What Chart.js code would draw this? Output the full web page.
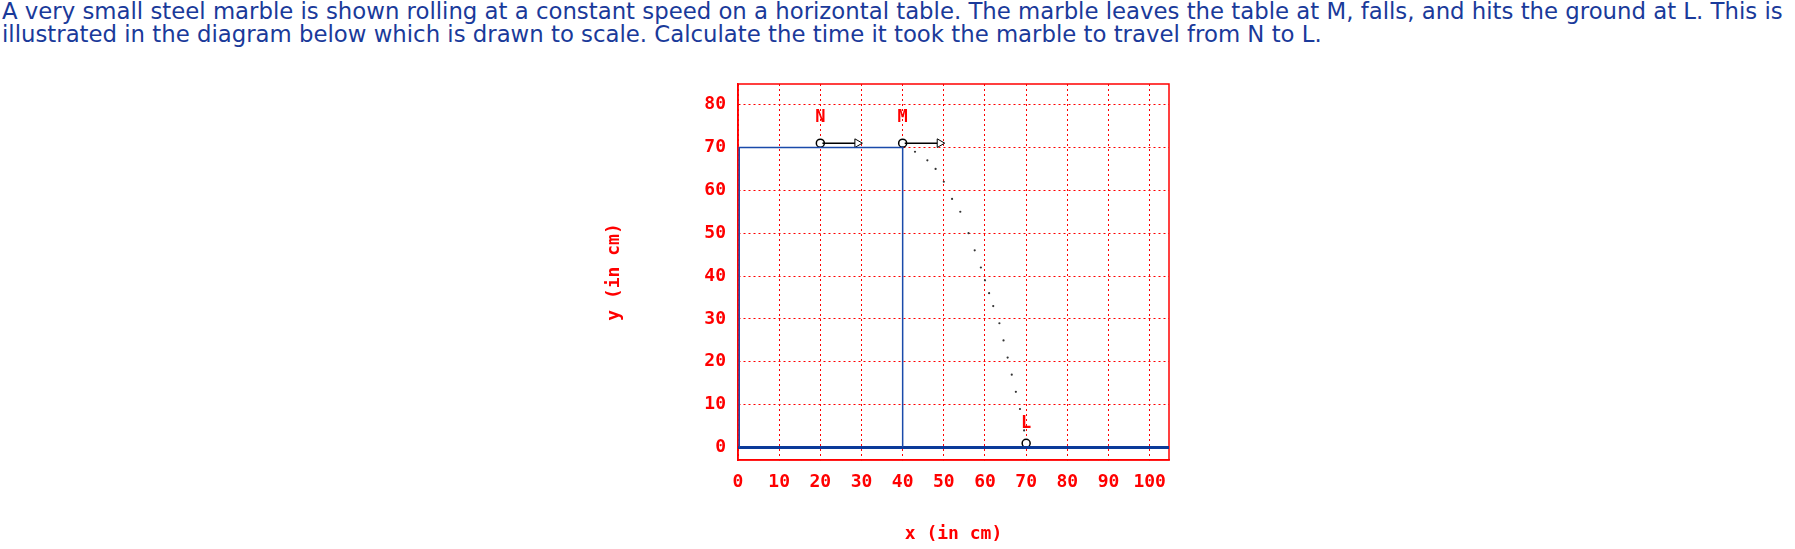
<!DOCTYPE html>
<html>
<head>
<meta charset="utf-8">
<script src="https://cdn.jsdelivr.net/npm/chart.js@4/dist/chart.umd.min.js"></script>
<style>
  body { margin: 0; background: #fff; width: 1795px; height: 549px; overflow: hidden; position: relative; }
  #q { position: absolute; left: 2px; top: 0px; font-family: "DejaVu Sans", Verdana, sans-serif; font-size: 22.8px; line-height: 23px; color: #1a3a9a; }
  #wrap { position: absolute; left: 600px; top: 60px; width: 600px; height: 489px; }
</style>
</head>
<body>
<div id="q">A very small steel marble is shown rolling at a constant speed on a horizontal table. The marble leaves the table at M, falls, and hits the ground at L. This is<br>illustrated in the diagram below which is drawn to scale. Calculate the time it took the marble to travel from N to L.</div>
<div id="wrap"><canvas id="c"></canvas></div>
<script>
// datos (cm)
const xTicks = [0, 10, 20, 30, 40, 50, 60, 70, 80, 90, 100];
const yTicks = [0, 10, 20, 30, 40, 50, 60, 70, 80];
const mesa = [{x: 0.3, y: 0}, {x: 0.3, y: 70}, {x: 40, y: 70}, {x: 40, y: 0}];
const suelo = [{x: 0, y: 0}, {x: 104.7, y: 0}];
const trayectoria = [
  {x: 40, y: 70}, {x: 43, y: 69}, {x: 46, y: 67}, {x: 48, y: 65}, {x: 50, y: 62},
  {x: 52, y: 58}, {x: 54, y: 55}, {x: 56, y: 50}, {x: 57.5, y: 46}, {x: 59, y: 42},
  {x: 60, y: 39}, {x: 61, y: 36}, {x: 62, y: 33}, {x: 63.5, y: 29}, {x: 64.5, y: 25},
  {x: 65.5, y: 21}, {x: 66.5, y: 17}, {x: 67.5, y: 13}, {x: 68.5, y: 9}, {x: 69.5, y: 4}
];
const canicas = [{x: 20, y: 71}, {x: 40, y: 71}, {x: 70, y: 1}];
const flechaN = [{x: 20.5, y: 71}, {x: 29, y: 71}];
const flechaM = [{x: 40.5, y: 71}, {x: 49, y: 71}];
const etiquetas = [{x: 20, y: 77, t: 'N'}, {x: 40, y: 77, t: 'M'}, {x: 70, y: 5.5, t: 'L'}];

const rojo = '#ff0000';
const fuente = {family: '"DejaVu Sans Mono", monospace', size: 18, weight: 'bold'};

const labelsPlugin = {
  id: 'labels',
  afterDatasetsDraw(chart) {
    const ctx = chart.ctx, xs = chart.scales.x, ys = chart.scales.y;
    ctx.save();
    ctx.fillStyle = rojo;
    ctx.font = 'bold 17px "DejaVu Sans Mono", monospace';
    ctx.textAlign = 'center';
    ctx.textBaseline = 'middle';
    etiquetas.forEach(e => ctx.fillText(e.t, xs.getPixelForValue(e.x), ys.getPixelForValue(e.y)));
    ctx.restore();
  }
};

const arrow = d => ({
  type: 'line', data: d, borderColor: '#000', borderWidth: 1.5, pointRadius: [0, 5],
  pointStyle: 'triangle', pointRotation: 90, pointBackgroundColor: '#fff',
  pointBorderColor: '#000', pointBorderWidth: 1, fill: false
});

new Chart(document.getElementById('c'), {
  type: 'scatter',
  data: {
    datasets: [
      {type: 'line', data: mesa, borderColor: '#1a4aaa', borderWidth: 1.5, pointRadius: 0, fill: false},
      {type: 'line', data: suelo, borderColor: '#0a3a99', borderWidth: 3, pointRadius: 0, fill: false},
      {data: trayectoria, pointRadius: 1.1, pointBackgroundColor: '#333', pointBorderWidth: 0},
      arrow(flechaN),
      arrow(flechaM),
      {data: canicas, pointRadius: 4, pointBackgroundColor: '#fff', pointBorderColor: '#000', pointBorderWidth: 1.5}
    ]
  },
  options: {
    responsive: true, maintainAspectRatio: false, animation: false,
    layout: {padding: {top: 24, right: 31, left: 0, bottom: 0}},
    plugins: {legend: {display: false}, tooltip: {enabled: false}},
    scales: {
      x: {
        type: 'linear', min: 0, max: 104.7,
        afterBuildTicks: s => { s.ticks = xTicks.map(v => ({value: v})); },
        afterFit: s => { s.height = 89; },
        ticks: {color: rojo, font: fuente, padding: 12},
        grid: {color: rojo, lineWidth: 1, tickLength: 0},
        border: {display: true, color: rojo, width: 1.5, dash: [2, 3]},
        title: {display: true, text: 'x (in cm)', color: rojo, font: fuente, padding: {top: 12}}
      },
      y: {
        type: 'linear', min: -2.9, max: 84.8,
        afterBuildTicks: s => { s.ticks = yTicks.map(v => ({value: v})); },
        afterFit: s => { s.width = 138; },
        ticks: {color: rojo, font: fuente, padding: 12},
        grid: {color: rojo, lineWidth: 1, tickLength: 0},
        border: {display: true, color: rojo, width: 1.5, dash: [2, 3]},
        title: {display: true, text: 'y (in cm)', color: rojo, font: fuente, padding: {bottom: 0}}
      }
    }
  },
  plugins: [labelsPlugin, {
    id: 'frame',
    beforeDatasetsDraw(chart) {
      const {ctx, chartArea: a} = chart;
      ctx.save();
      ctx.strokeStyle = rojo;
      ctx.lineWidth = 1.5;
      ctx.strokeRect(a.left, a.top, a.right - a.left, a.bottom - a.top);
      ctx.restore();
    }
  }]
});
</script>
</body>
</html>
